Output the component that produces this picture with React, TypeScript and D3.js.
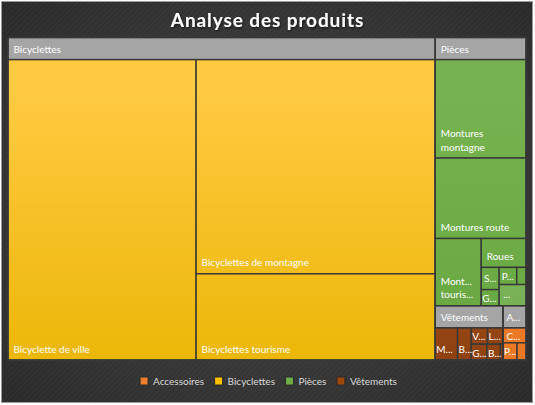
import React, { useMemo } from "react";
import * as d3 from "d3";

// ---------- data ----------
const treemapCategories = ["Bicyclettes", "Pièces", "Vêtements", "Accessoires"];

const bicyclettesNames = ["Bicyclette de ville", "Bicyclettes de montagne", "Bicyclettes tourisme"];
const bicyclettesValues = [36.29, 32.91, 13.23];

const piecesNames = ["Montures montagne", "Montures route", "Montures tourisme", "Roues", "Selles", "Guidons", "Pédales", "Chaînes", "..."];
const piecesValues = [5.824, 4.755, 2.013, 0.843, 0.259, 0.188, 0.197, 0.103, 0.37];

const vetementsNames = ["Maillots", "Bib-shorts", "Vestes", "Leggings", "Gants", "Bermudas", "Chaussettes"];
const vetementsValues = [0.723, 0.444, 0.271, 0.257, 0.249, 0.214, 0.042];

const accessoiresNames = ["Casques", "Porte-bouteilles", "Nettoyants"];
const accessoiresValues = [0.349, 0.241, 0.155];

const legendLabels = ["Accessoires", "Bicyclettes", "Pièces", "Vêtements"];
const legendColors = ["#ED7D31", "#FFC000", "#70AD47", "#9E480E"];

const title = "Analyse des produits";

// row structure of the tiling (strip kind + number of items in the strip)
const tilingRows: Record<string, [string, number][]> = {
  root: [["col", 1], ["row", 1], ["col", 1], ["col", 1]],
  Bicyclettes: [["col", 1], ["row", 1], ["row", 1]],
  "Pièces": [["row", 1], ["row", 1], ["col", 1], ["row", 1], ["col", 2], ["row", 2], ["row", 1]],
  "Vêtements": [["col", 1], ["col", 1], ["row", 2], ["row", 3]],
  Accessoires: [["row", 1], ["col", 1], ["col", 1]],
};

const catGradient: Record<string, [string, string]> = {
  Bicyclettes: ["#FFC940", "#E8B500"],
  "Pièces": ["#76B350", "#64A43E"],
  "Vêtements": ["#A8521F", "#8C410F"],
  Accessoires: ["#F38A3A", "#E8741F"],
};

const W = 535;
const H = 405;
const PLOT = { x0: 8, y0: 37.5, x1: 526, y1: 360 };
const HEADER = 22;
const FONT = "Lato, 'Open Sans', sans-serif";
const FS = 10;

let ctx: CanvasRenderingContext2D | null = null;
function measure(t: string, font = `${FS}px Lato`) {
  if (!ctx) ctx = document.createElement("canvas").getContext("2d");
  ctx!.font = font;
  return ctx!.measureText(t).width;
}

function truncate(word: string, avail: number, w: number): { t: string; tight: boolean } | null {
  if (measure(word) <= avail) return { t: word, tight: false };
  for (let k = word.length - 1; k >= 1; k--) {
    const s = word.slice(0, k) + "...";
    if (measure(s) <= avail) return { t: s, tight: false };
  }
  const s = word[0] + "...";
  if (measure(s) <= w + 1) return { t: s, tight: true };
  return null;
}

function fitLabel(name: string, w: number, h: number) {
  let pad = Math.min(5.5, Math.max(1.5, w * 0.15));
  const avail = w - 2 * pad;
  if (measure(name) <= avail) return { pad, lines: [name] };
  const words = name.split(" ");
  const maxLines = Math.max(1, Math.floor((h - 8) / 13.5));
  const lines: string[] = [];
  let cur = "";
  for (const wd of words) {
    const t = cur ? cur + " " + wd : wd;
    if (measure(t) <= avail || !cur) cur = t;
    else {
      lines.push(cur);
      cur = wd;
    }
  }
  if (cur) lines.push(cur);
  const out = lines.slice(0, maxLines);
  const res: string[] = [];
  for (const l of out) {
    const t = truncate(l, avail, w);
    if (t === null) return { pad, lines: [] };
    if (t.tight) pad = 1;
    res.push(t.t);
  }
  return { pad, lines: res };
}

function makeTile() {
  return (parent: any, x0: number, y0: number, x1: number, y1: number) => {
    const key = parent.depth === 0 ? "root" : parent.data.name;
    const rows = tilingRows[key];
    const nodes = parent.children;
    let remaining = parent.value;
    let i = 0;
    for (const [kind, count] of rows) {
      const part = nodes.slice(i, i + count);
      i += count;
      const v = d3.sum(part, (d: any) => d.value);
      const row: any = { children: part, value: v };
      const last = i >= nodes.length;
      if (kind === "row") {
        const ny = last ? y1 : y0 + ((y1 - y0) * v) / remaining;
        d3.treemapDice(row, x0, y0, x1, ny);
        y0 = ny;
      } else {
        const nx = last ? x1 : x0 + ((x1 - x0) * v) / remaining;
        d3.treemapSlice(row, x0, y0, nx, y1);
        x0 = nx;
      }
      remaining -= v;
    }
  };
}

export default function App() {
  const root = useMemo(() => {
    const names = [bicyclettesNames, piecesNames, vetementsNames, accessoiresNames];
    const values = [bicyclettesValues, piecesValues, vetementsValues, accessoiresValues];
    const data = {
      name: "root",
      children: treemapCategories.map((c, i) => ({
        name: c,
        children: names[i].map((n, j) => ({ name: n, value: values[i][j] })),
      })),
    };
    const h = d3.hierarchy<any>(data).sum((d: any) => d.value ?? 0);
    d3
      .treemap<any>()
      .size([PLOT.x1 - PLOT.x0, PLOT.y1 - PLOT.y0])
      .paddingTop((d: any) => (d.depth === 1 ? HEADER : 0))
      .tile(makeTile() as any)(h);
    return h as d3.HierarchyRectangularNode<any>;
  }, []);

  const cats = root.children!;
  const leaves = root.leaves();

  // legend layout
  const sq = 8;
  const gapSq = 5;
  const gapItem = 10.5;
  const lw = legendLabels.map((l) => measure(l));
  const totalW = d3.sum(lw) + legendLabels.length * (sq + gapSq) + (legendLabels.length - 1) * gapItem;
  let lx = 268.5 - totalW / 2;
  const legendItems = legendLabels.map((l, i) => {
    const item = { label: l, color: legendColors[i], x: lx };
    lx += sq + gapSq + lw[i] + gapItem;
    return item;
  });

  return (
    <svg width={W} height={H} style={{ position: "absolute", left: 0, top: 0, background: "#fff" }} fontFamily={FONT}>
      <defs>
        <radialGradient id="bg" cx="50%" cy="50%" r="70%">
          <stop offset="0%" stopColor="#4a4a4a" />
          <stop offset="100%" stopColor="#2a2a2a" />
        </radialGradient>
        <pattern id="tex" width="4" height="4" patternUnits="userSpaceOnUse" patternTransform="rotate(45)">
          <line x1="0" y1="0" x2="0" y2="4" stroke="#ffffff" strokeOpacity="0.04" strokeWidth="1.5" />
        </pattern>
        {treemapCategories.map((c, i) => (
          <linearGradient key={c} id={`g${i}`} gradientUnits="userSpaceOnUse" x1="0" y1={PLOT.y0 + HEADER} x2="0" y2={PLOT.y1}>
            <stop offset="0%" stopColor={catGradient[c][0]} />
            <stop offset="100%" stopColor={catGradient[c][1]} />
          </linearGradient>
        ))}
        <filter id="shadow" x="-10%" y="-30%" width="120%" height="160%">
          <feDropShadow dx="1" dy="1.5" stdDeviation="1" floodColor="#000" floodOpacity="0.6" />
        </filter>
      </defs>
      <rect x={1.5} y={1.5} width={531} height={401} fill="url(#bg)" stroke="#9a9a9a" strokeWidth={1} />
      <rect x={2} y={2} width={530} height={400} fill="url(#tex)" />
      <text x={267.5} y={27} textAnchor="middle" fill="#fff" fontSize={19} fontWeight={700} letterSpacing={0.9} filter="url(#shadow)">
        {title}
      </text>
      <g transform={`translate(${PLOT.x0},${PLOT.y0})`}>
        {leaves.map((d, i) => {
          const ci = treemapCategories.indexOf(d.parent!.data.name);
          const w = d.x1 - d.x0;
          const h = d.y1 - d.y0;
          return (
            <g key={`l${i}`}>
              <rect x={d.x0} y={d.y0} width={w} height={h} fill={`url(#g${ci})`} />
              {d.data.name === "..." && <rect x={d.x0} y={d.y0} width={w} height={h} fill="#fff" fillOpacity={0.1} />}
              <rect x={d.x0} y={d.y0} width={w} height={h} fill="none" stroke="#383838" strokeWidth={1.4} />
            </g>
          );
        })}
        {cats.map((c, i) => (
          <g key={`c${i}`}>
            <rect x={c.x0} y={c.y0} width={c.x1 - c.x0} height={HEADER} fill="#A5A5A5" stroke="#383838" strokeWidth={1.4} />
            <rect x={c.x0} y={c.y0} width={c.x1 - c.x0} height={c.y1 - c.y0} fill="none" stroke="#383838" strokeWidth={1.4} />
          </g>
        ))}
        {cats.map((c, i) => {
          const w = c.x1 - c.x0;
          const f = fitLabel(c.data.name, w, HEADER);
          if (!f.lines.length) return null;
          return (
            <text key={`ct${i}`} x={c.x0 + f.pad} y={c.y0 + 15} fill="#fff" fontSize={FS}>
              {f.lines[0]}
            </text>
          );
        })}
        {leaves.map((d, i) => {
          const w = d.x1 - d.x0;
          const h = d.y1 - d.y0;
          const f = fitLabel(d.data.name, w, h);
          if (!f.lines.length) return null;
          const lastBase = Math.max(d.y0 + 12.5, d.y1 - 7.5);
          const n = f.lines.length;
          return (
            <text key={`lt${i}`} fill="#fff" fontSize={FS}>
              {f.lines.map((l, k) => (
                <tspan key={k} x={d.x0 + f.pad} y={lastBase - (n - 1 - k) * 13.7}>
                  {l}
                </tspan>
              ))}
            </text>
          );
        })}
      </g>
      <g>
        {legendItems.map((it, i) => (
          <g key={`lg${i}`}>
            <rect x={it.x} y={377} width={sq} height={sq} fill={it.color} stroke="#2a2a2a" strokeWidth={1} />
            <text x={it.x + sq + gapSq} y={384.5} fill="#D9D9D9" fontSize={FS}>
              {it.label}
            </text>
          </g>
        ))}
      </g>
    </svg>
  );
}
